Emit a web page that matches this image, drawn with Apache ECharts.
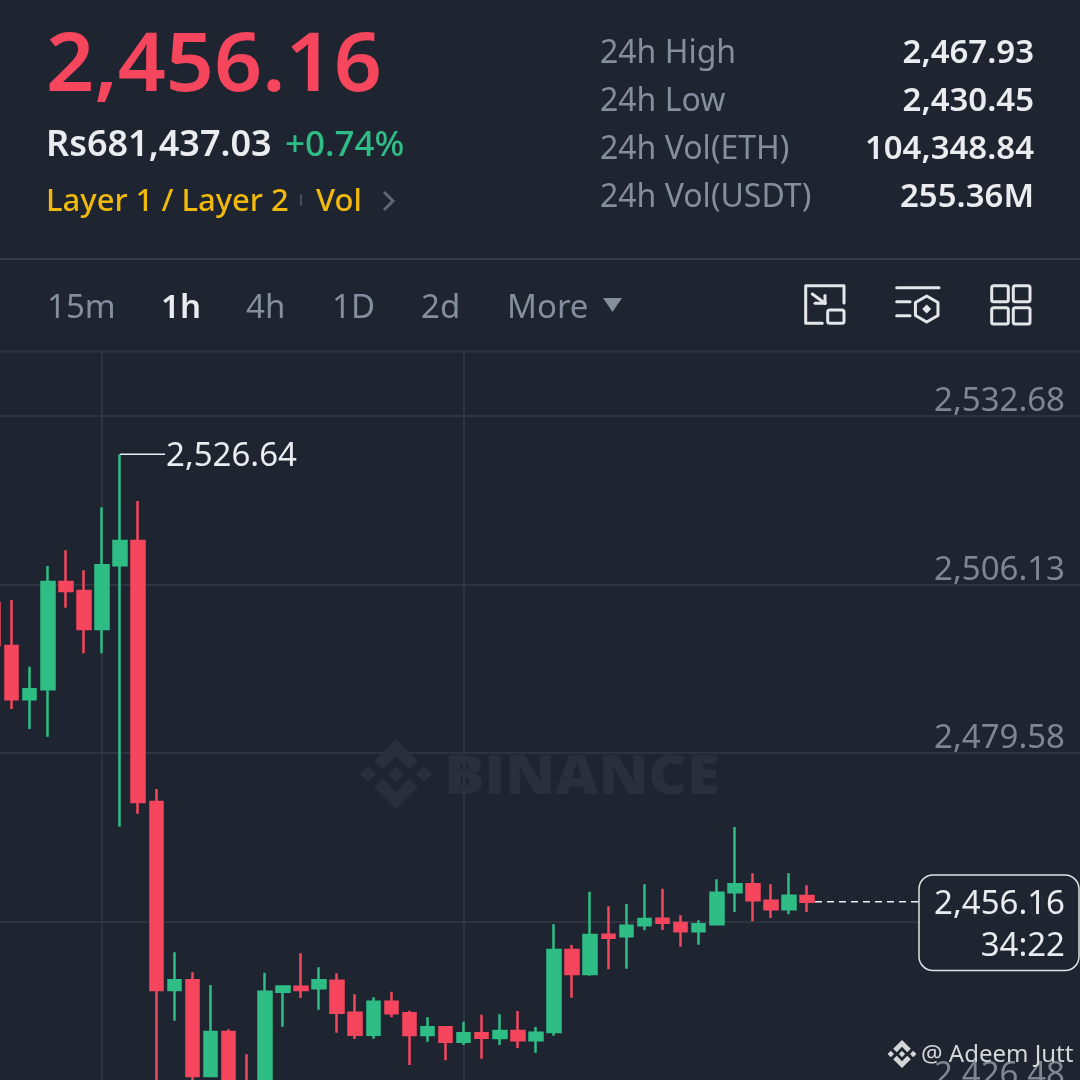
<!DOCTYPE html>
<html><head><meta charset="utf-8">
<style>html,body{margin:0;padding:0;background:#1f2530}#c{width:1080px;height:1080px}</style>
<script src="https://cdn.jsdelivr.net/npm/echarts@6/dist/echarts.min.js"></script>
</head><body><div id="c"></div>
<script>
const opens=[2503.21,2496.44,2488.04,2489.62,2506.52,2505.11,2499.12,2509.15,2512.98,2471.86,2442.23,2443.76,2428.68,2435.62,2427.27,2425.69,2441.97,2442.75,2442.50,2443.70,2438.66,2435.19,2440.39,2438.56,2435.14,2436.36,2434.09,2435.41,2434.67,2435.77,2434.31,2435.62,2448.54,2444.76,2450.95,2450.70,2452.43,2453.47,2452.79,2451.48,2452.59,2457.63,2458.89,2456.31,2454.95,2457.05];
const closes=[2496.60,2488.04,2489.62,2506.52,2505.11,2499.12,2509.15,2512.98,2471.86,2442.23,2443.76,2428.68,2435.62,2425.69,2424.90,2441.97,2442.79,2442.23,2443.76,2438.66,2435.19,2440.39,2438.56,2435.14,2436.36,2434.09,2435.41,2434.72,2435.77,2434.31,2435.51,2448.54,2444.76,2450.90,2450.48,2452.37,2453.42,2452.84,2451.48,2452.59,2457.57,2458.89,2456.37,2454.95,2457.09,2456.16];
const lows=[2496.12,2486.51,2483.36,2482.15,2502.47,2495.29,2495.29,2467.97,2470.01,2424.90,2437.40,2427.27,2428.57,2425.00,2424.00,2425.00,2436.45,2440.97,2439.13,2435.51,2434.51,2434.56,2437.93,2430.42,2434.09,2431.16,2433.57,2431.41,2433.57,2433.10,2432.36,2435.03,2441.02,2444.49,2445.50,2445.59,2451.64,2451.69,2449.06,2449.37,2452.59,2454.53,2453.06,2453.58,2454.16,2454.53];
const highs=[2503.69,2503.69,2493.18,2509.04,2511.52,2508.37,2518.29,2526.64,2519.29,2473.91,2448.18,2445.02,2443.02,2436.04,2432.10,2444.96,2442.85,2448.02,2445.81,2444.87,2441.56,2441.08,2441.97,2438.97,2437.93,2436.36,2437.24,2438.34,2438.41,2438.93,2436.40,2452.59,2449.33,2457.72,2455.42,2455.79,2458.89,2458.20,2454.01,2453.22,2459.68,2467.93,2460.62,2458.89,2460.62,2458.73];
const yTicks=[2426.48,2453.03,2479.58,2506.13,2532.68];
const categoryCount=63;
const verticalLines=[7,27];
const lastPrice=2456.16, peakPrice=2526.64, peakIndex=8;
const statLabels=['24h High','24h Low','24h Vol(ETH)','24h Vol(USDT)'];
const statValues=['2,467.93','2,430.45','104,348.84','255.36M'];
const tabs=['15m','1h','4h','1D','2d','More'];

const BG='#1f2530',RED='#f6465d',GREEN='#2ebd85',GREY='#848e9c',WHITE='#eaecef',YEL='#f0b90b',LINE='#343a45',FF="'Noto Sans'";
const categories=Array.from({length:categoryCount},(_,i)=>String(i));
const candles=opens.map((o,i)=>[i+1,o,closes[i],lows[i],highs[i]]);
const chart=echarts.init(document.getElementById('c'),null,{renderer:'canvas'});
function T(text,x,y,size,weight,fill,align){return {type:'text',z:10,silent:true,style:{text,x,y:y+2,fill,font:`${weight} ${size}px ${FF}`,textAlign:align||'left',textVerticalAlign:'middle'}};}
function L(x1,y1,x2,y2,stroke,w,extra){return {type:'line',z:10,silent:true,shape:{x1,y1,x2,y2},style:Object.assign({stroke,lineWidth:w||3,lineCap:'round'},extra||{})};}
function R(x,y,w,h,stroke,r){return {type:'rect',z:10,silent:true,shape:{x,y,width:w,height:h,r:r||2},style:{fill:'none',stroke,lineWidth:3}};}
function P(points,fill,z){return {type:'polygon',z:z==null?10:z,silent:true,shape:{points},style:{fill}};}
function logo(cx,cy,s,fill,z){
  const d=(x,y,r)=>P([[cx+(x)*s,cy+(y-r)*s],[cx+(x+r)*s,cy+y*s],[cx+x*s,cy+(y+r)*s],[cx+(x-r)*s,cy+y*s]],fill,z);
  const chev=k=>P([[0,-35],[22,-13],[13,-4.5],[0,-18],[-13,-4.5],[-22,-13]].map(p=>[cx+p[0]*s,cy+k*p[1]*s]),fill,z);
  return [d(0,0,8),d(-28,0,8),d(28,0,8),chev(1),chev(-1)];
}
const tabX=[47,161,246,332,421,507];
const tabEls=tabs.map((t,i)=>T(t,tabX[i],307,33,i===1?600:400,i===1?WHITE:GREY));
const statEls=[];
statLabels.forEach((t,i)=>{statEls.push(T(t,600,52+48*i,32,400,GREY));statEls.push(Object.assign(T(statValues[i],1034,52+48*i,32,600,WHITE,'right'),{scaleX:1.03,originX:1034,originY:52+48*i}));});
const ICON='#e4e6e9';
const hex=[];for(let i=0;i<6;i++){const a=Math.PI/3*i-Math.PI/2;hex.push([926.7+13*Math.cos(a),309+13*Math.sin(a)]);}
const icons=[
  {type:'polyline',z:10,silent:true,shape:{points:[[844,303],[844,285.7],[805.7,285.7],[805.7,323.3],[822.3,323.3]]},style:{fill:'none',stroke:ICON,lineWidth:3,lineCap:'round',lineJoin:'round'}},
  R(827.7,310,16.3,13.3,ICON),
  L(812.3,294,825,303.3,ICON),L(825,303.3,825,295.5,ICON),L(825,303.3,815,303.3,ICON),
  L(896.7,287.7,939,287.7,ICON),L(896.7,301.7,910,301.7,ICON),L(896.7,315.7,910,315.7,ICON),
  {type:'polygon',z:10,silent:true,shape:{points:hex},style:{fill:'none',stroke:ICON,lineWidth:3,lineJoin:'round'}},
  P([[926.7,304.5],[931.2,309],[926.7,313.5],[922.2,309]],ICON),
  R(991.7,285.7,16.6,16,ICON),R(1013.3,285.7,16.7,16,ICON),R(991.7,307.7,16.6,16.3,ICON),R(1013.3,307.7,16.7,16.3,ICON)
];
chart.setOption({
  animation:false,backgroundColor:BG,
  grid:{left:-24.5,right:-16.46,top:352,bottom:-10,containLabel:false,outerBoundsMode:'none'},
  xAxis:{type:'category',data:categories,boundaryGap:false,axisLine:{show:false},axisTick:{show:false},axisLabel:{show:false},
    splitLine:{show:true,interval:i=>verticalLines.includes(i),lineStyle:{color:LINE,width:1.5}}},
  yAxis:{type:'value',position:'right',min:2426.48,max:2542.76,
    axisLine:{show:false},axisTick:{show:false,customValues:yTicks},
    axisLabel:{inside:true,margin:31.46,customValues:yTicks,verticalAlign:'bottom',color:'#7f8690',fontFamily:FF,fontSize:33,lineHeight:28,formatter:v=>v.toLocaleString('en-US',{minimumFractionDigits:2,maximumFractionDigits:2})},
    splitLine:{show:true,lineStyle:{color:LINE,width:1.5}}},
  series:[{type:'candlestick',z:3,data:candles,encode:{x:0,y:[1,2,3,4]},barWidth:13,clip:true,
    itemStyle:{color:GREEN,color0:RED,borderColor:GREEN,borderColor0:RED,borderWidth:2.5}}]
});
const py=v=>chart.convertToPixel({yAxisIndex:0},v);
const px=i=>chart.convertToPixel({xAxisIndex:0},i);
const lastY=py(lastPrice),peakY=py(peakPrice),peakX=px(peakIndex);
chart.setOption({graphic:{elements:[].concat(
  [{type:'rect',z:-1,silent:true,shape:{x:0,y:258,width:1080,height:2},style:{fill:'#383e49'}},
   {type:'rect',z:-1,silent:true,shape:{x:0,y:350.5,width:1080,height:2},style:{fill:'#2f3540'}}],
  logo(396,774,1,'#2a303b',1),
  [{type:'text',z:1,silent:true,scaleX:1.106,originX:582,originY:775,style:{text:'BINANCE',x:582,y:779,fill:'#2a303b',font:`800 54px 'Open Sans'`,textAlign:'center',textVerticalAlign:'middle'}}],
  [Object.assign(T('2,456.16',46,66,81,600,RED),{scaleX:1.04,originX:46,originY:62}),
   T('Rs681,437.03',46,144,36,600,WHITE),T('+0.74%',285,144,35,500,GREEN),
   T('Layer 1 / Layer 2',46,200,31,500,YEL),L(301,195,301,205,'#4a505b',2),T('Vol',316,200,31,500,YEL),
   {type:'polyline',z:10,silent:true,shape:{points:[[384,192],[393,201],[384,210]]},style:{fill:'none',stroke:'#5e6673',lineWidth:3}},
   P([[603,298],[622,298],[612.5,312]],GREY)],
  tabEls,statEls,icons,
  [L(peakX,peakY,165,peakY,WHITE,1.5,{lineCap:'butt'}),T('2,526.64',166,455,33,400,WHITE)],
  [L(815,lastY,918,lastY,WHITE,1.5,{lineCap:'butt',lineDash:[7,5]}),
   {type:'rect',z:10,silent:true,shape:{x:919,y:875,width:160,height:95.5,r:14},style:{fill:'rgba(31,37,48,0.95)',stroke:'#dfe1e4',lineWidth:1.5}},
   T('2,456.16',1065,903,33,400,WHITE,'right'),T('34:22',1065,945,33,400,WHITE,'right')],
  logo(902,1054,0.4,'#d5d6d8',12),
  [Object.assign(T('@ Adeem Jutt',921,1053,24,400,'#d5d6d8'),{z:12})]
)}});
</script></body></html>
